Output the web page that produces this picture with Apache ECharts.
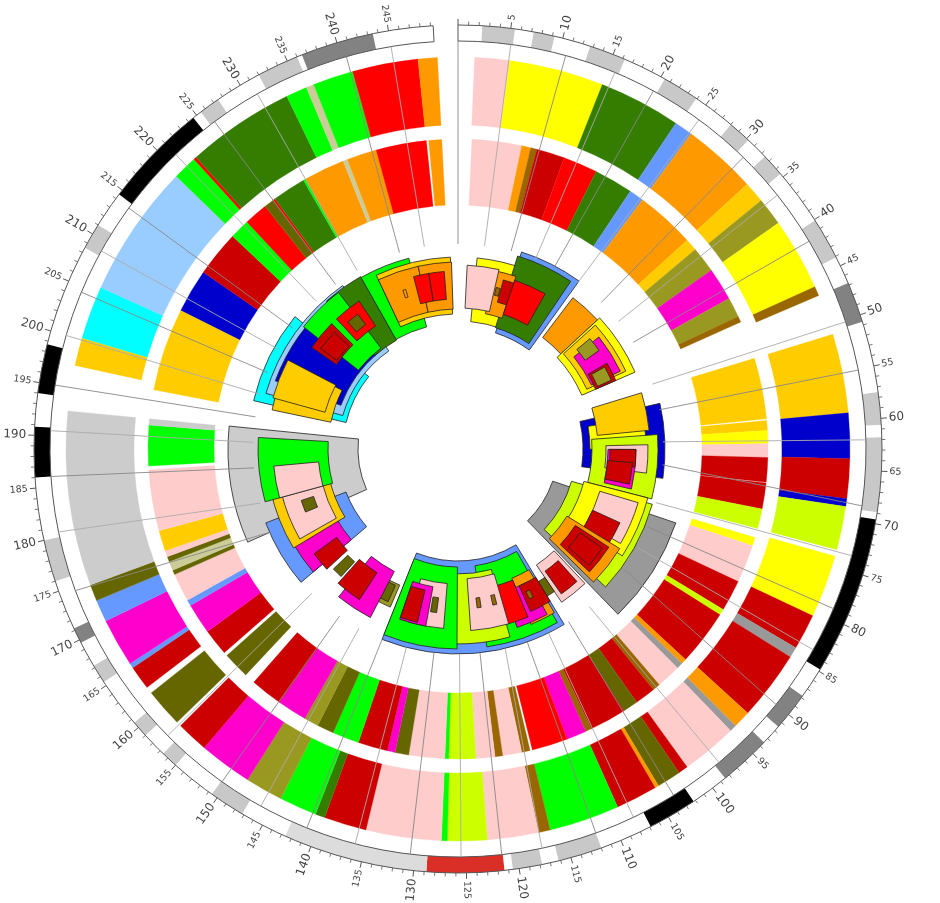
<!DOCTYPE html>
<html><head><meta charset="utf-8">
<script src="https://cdn.jsdelivr.net/npm/echarts@6/dist/echarts.min.js"></script>
<style>html,body{margin:0;background:#fff}#c{width:940px;height:903px}</style>
</head><body><div id="c"></div>
<script>
const PAL = {pink:'#ffcccc',yellow:'#ffff00',dgreen:'#357d00',blue:'#6699ff',orange:'#ff9900',gold:'#ffcc00',
 olive:'#999922',brown:'#996600',navy:'#0000cc',red:'#cc0000',lime:'#ccff00',gray:'#999999',bred:'#ff0000',
 dolive:'#666600',green:'#00ff00',magenta:'#ff00cc',lgray:'#cccccc',cyan:'#00ffff',lblue:'#99ccff',tan:'#cccc99',
 g25:'#c8c8c8',g75:'#828282',g100:'#000000',acen:'#d92f27',gvar:'#dcdcdc'};

const chromLength = 249.25;
const ideoBands = [[2.3,5.4,'g25'],[7.2,9.2,'g25'],[12.7,16.2,'g25'],[20.4,23.9,'g25'],[28,30.2,'g25'],[32.4,34.6,'g25'],
 [40.1,44.1,'g25'],[46.8,50.7,'g75'],[57.5,60.6,'g25'],[61.8,68.9,'g25'],[69.6,84.8,'g100'],[87.8,91.5,'g75'],[93.5,98.5,'g75'],
 [102.2,106.9,'g100'],[112,116.2,'g25'],[117.8,120.6,'g25'],[121.4,128.8,'acen'],[128.8,142.6,'gvar'],[147.2,150.6,'g25'],
 [155,156.6,'g25'],[159,160.6,'g25'],[165.4,167.2,'g25'],[169.7,171.2,'g75'],[176,180,'g25'],[186,190.8,'g100'],
 [194,198.7,'g100'],[208.5,211,'g25'],[214.5,224.6,'g100'],[225.5,227.5,'g25'],[232,236,'g25'],[236.5,243.5,'g75']];

const outerTrack = [[1.7,5.3,'pink'],[5.3,15.1,'yellow'],[15.1,23.6,'dgreen'],[23.6,25.5,'blue'],[25.5,33.2,'orange'],
 [33.2,35.4,'gold'],[35.4,38.3,'olive'],[38.3,45.8,'yellow'],[45.8,46.8,'brown'],
 [51,59.2,'gold'],[59.2,63.9,'navy'],[63.9,68,'red'],[68,68.8,'navy'],[68.8,73.3,'lime'],
 [74,80.5,'yellow'],[80.5,84.2,'red'],[84.2,85.3,'gray'],[85.3,92.5,'red'],[92.5,94.3,'orange'],[94.3,95,'gray'],
 [95,100.8,'pink'],[100.8,101.8,'red'],[101.8,104.3,'dolive'],[104.3,104.7,'orange'],[104.7,109,'red'],[109,116.3,'green'],
 [116.3,117.5,'brown'],[117.5,122.8,'pink'],[122.8,126.9,'lime'],[126.9,127.5,'green'],[127.5,135.3,'pink'],
 [135.3,139.7,'red'],[139.7,140.7,'dgreen'],[140.7,144.6,'green'],[144.6,148.5,'olive'],[148.5,154,'magenta'],
 [154,157.3,'red'],[157.8,161.8,'dolive'],[162.5,165,'red'],[165,165.5,'blue'],[165.5,170.5,'magenta'],
 [170.5,172.8,'blue'],[172.8,174.5,'dolive'],[174.5,192.6,'lgray'],
 [197.3,200.2,'gold'],[200.2,205.7,'cyan'],[205.7,219.5,'lblue'],[219.5,222,'green'],[222,222.3,'bred'],
 [222.3,233.5,'dgreen'],[233.5,235.7,'green'],[235.7,236.5,'tan'],[236.5,240.7,'green'],[240.7,247.5,'bred'],[247.5,249.5,'orange']];

const innerTrack = [[1.8,8.3,'pink'],[8.3,9.5,'orange'],[9.5,10.3,'brown'],[10.3,14,'red'],[14,18.5,'bred'],
 [18.5,23.6,'dgreen'],[23.6,25.5,'blue'],[25.5,33.3,'orange'],[33.3,34.9,'gold'],[34.9,38.3,'olive'],[38.3,42.6,'magenta'],
 [42.6,45.2,'olive'],[45.2,46,'brown'],
 [51,59,'gold'],[59.2,60.5,'gold'],[60.5,62.2,'yellow'],[62.2,64,'pink'],[64,67.2,'red'],[67.3,70.7,'red'],[70.7,73.3,'lime'],
 [74.5,75.6,'yellow'],[75.6,80.6,'pink'],[80.6,84.7,'red'],[84.7,85.5,'lime'],[85.5,92.8,'red'],[92.8,93.5,'orange'],
 [93.5,94.3,'gray'],[94.3,97.5,'pink'],[97.5,98.5,'brown'],[98.5,101.2,'red'],[101.2,103.2,'dolive'],[103.2,108,'red'],
 [108,108.8,'brown'],[108.8,111.4,'magenta'],[111.4,116.1,'bred'],[116.4,117.5,'brown'],[117.5,120,'pink'],[120,121,'brown'],
 [121,123.5,'pink'],[123.5,127,'lime'],[127,127.5,'green'],[127.5,132.2,'pink'],[132.2,134,'dolive'],[134,135,'magenta'],
 [135,138.9,'red'],[138.9,142.4,'green'],[142.4,144.6,'dolive'],[144.6,146.5,'olive'],[146.5,150.4,'magenta'],[150.4,154.6,'red'],
 [156,159.5,'dolive'],[160,163.5,'red'],[163.5,167.5,'magenta'],[167.5,168.3,'blue'],[168.3,172,'pink'],[172,172.6,'dolive'],
 [172.6,173.8,'tan'],[173.8,174.5,'dolive'],[174.5,175.3,'pink'],[175.3,178,'gold'],[178,186,'pink'],[186.5,191.8,'green'],
 [191.8,192.6,'lgray'],
 [196.4,207.3,'gold'],[207.3,213,'navy'],[213,219,'red'],[219,221.6,'green'],[221.6,224.7,'bred'],[224.7,226,'dolive'],
 [226,226.3,'bred'],[226.3,230.7,'dgreen'],[230.7,231,'green'],[231,236.4,'orange'],[236.4,237,'tan'],[237,240.9,'orange'],
 [240.9,247.5,'bred'],[247.8,249.5,'orange']];

const tiles = [
 [4,14.5,128,192,'yellow'],[12.5,25,122,207,'blue'],[12,23.7,127,202,'dgreen'],[8,13,138,182,'orange'],[2,9,141,184,'pink'],
 [10.5,15,152,175,'red'],[9.3,10.3,158,166,'brown'],[13,20.5,142,178,'bred'],
 [26,33,140,190,'orange'],[33,46.5,135,193,'yellow'],[33.5,45.5,142,185,'gold'],[36,45,148,180,'magenta'],
 [35,38.5,155,172,'olive'],[42,46.5,150,172,'red'],[42.5,46,153,168,'olive'],
 [54,68.6,125,207,'navy'],[56,63,132,188,'yellow'],[51,59,140,192,'gold'],[60,73,134,200,'lime'],[62,68,148,190,'pink'],
 [63,72,150,178,'magenta'],[63,67,152,178,'red'],[66,71,150,175,'red'],
 [76,95,100,230,'gray'],[74,93,118,202,'lime'],[73,86,130,196,'yellow'],[74.5,84,148,188,'pink'],[80,86,148,178,'red'],
 [85,94,128,190,'orange'],[86,93,140,180,'red'],[87,92,148,175,'red'],
 [95.5,102,140,185,'pink'],[96.5,101,150,178,'red'],[102,105,155,172,'dolive'],
 [104,141,112,205,'blue'],[105,120,118,200,'green'],[104.5,110,140,190,'orange'],[106,113,150,188,'magenta'],
 [104,109,150,178,'red'],[107,108,158,166,'brown'],[110,116.5,142,182,'bred'],
 [115,127,125,195,'lime'],[114.5,123,130,182,'pink'],[116,117,150,160,'brown'],[120,121,150,160,'brown'],
 [126,141,118,200,'green'],[129,137,135,180,'pink'],[133,139,140,180,'magenta'],[135,139,145,178,'red'],
 [131,132.5,150,165,'dolive'],[142,146,148,172,'olive'],[143,145.5,150,168,'dolive'],
 [145,153,138,190,'magenta'],[149,155,148,180,'red'],[155.5,158,153,173,'dolive'],
 [172,192.7,100,230,'lgray'],[160.5,174,120,206,'blue'],[160.5,168,140,190,'magenta'],[159,163.5,150,178,'red'],
 [167,180,132,192,'gold'],[168,179,140,182,'pink'],[173,176,152,165,'dolive'],
 [178,191,130,200,'green'],[178,185,140,185,'pink'],
 [198,216,115,210,'cyan'],[200,227,120,200,'lblue'],[203,224,125,195,'navy'],[197,207.5,130,190,'gold'],
 [199.5,208,138,192,'gold'],[222.5,231,125,198,'dgreen'],[231,241.5,126,197,'green'],[215.5,225.5,127,197,'green'],
 [213,220,148,178,'red'],[214,219,150,170,'red'],[221.5,228,148,178,'bred'],[223,226,155,168,'dolive'],
 [234,250,135,192,'gold'],[234,243,140,187,'orange'],[243,250.2,140,187,'orange'],[238.2,238.9,160,168,'orange'],
 [241.5,245,150,178,'bred'],[245,248.5,150,178,'bred']];

const links = [[0,0],[5.2,5.2],[10.5,10.7],[15.5,15.8],[19.5,20],[25,25.3],[31,31],[36,36],[41,41.5],[50,50.2],
 [55.2,55.1],[61.5,62],[66,68.5],[73.5,73.5],[78.5,79],[83,83.5],[88,90],[98,98],[103,103.5],[107.5,108],[112,112],
 [116.5,117.5],[121.5,121.5],[125.5,125.5],[130.5,130.5],[136,136],[141,141],[146,146],[150.5,150.5],[157.5,157.5],
 [172,174.5],[178,180.5],[185,186],[190,190.5],[195,195],[199.5,200],[204,204.5],[209,209],[214,214],[221,221],
 [226,226],[231,231],[240,240.5],[245,245]];

const tickLabels = [5,10,15,20,25,30,35,40,45,50,55,60,65,70,75,80,85,90,95,100,105,110,115,120,125,130,135,140,145,
 150,155,160,165,170,175,180,185,190,195,200,205,210,215,220,225,230,235,240,245];

const R = {ideo:[408,424], outer:[324,392], inner:[244,310], linkIn:205, linkOut:408, label:432};

function sector(api,a0,a1,r0,r1,style){
  const c = api.coord([0,a0]);
  const p0 = api.coord([r1,a0]), p1 = api.coord([r1,a1]), q0 = api.coord([r0,a0]);
  const rr1 = Math.hypot(p0[0]-c[0],p0[1]-c[1]), rr0 = Math.hypot(q0[0]-c[0],q0[1]-c[1]);
  let sa = Math.atan2(p0[1]-c[1],p0[0]-c[0]), ea = Math.atan2(p1[1]-c[1],p1[0]-c[0]);
  if (ea < sa) ea += Math.PI*2;
  return {type:'sector',shape:{cx:c[0],cy:c[1],r0:rr0,r:rr1,startAngle:sa,endAngle:ea,clockwise:true},style};
}
function mid(arr){ return arr.map(d=>[0,(d[0]+d[1])/2]); }

const ticks = []; for (let i=0;i<=249;i++) ticks.push(i);

const series = [];
function layer(data, fn){
  series.push({type:'custom',coordinateSystem:'polar',data:data.map(()=>[0,0]),silent:true,animation:false,
    encode:{radius:0,angle:1},clip:false,renderItem:(p,api)=>fn(p.dataIndex,api)});
}
layer(tiles,(i,api)=>{const t=tiles[i];return sector(api,t[0],t[1],t[2],t[3],{fill:PAL[t[4]],stroke:'#222',lineWidth:0.8});});
layer(innerTrack,(i,api)=>{const t=innerTrack[i];return sector(api,t[0],t[1],R.inner[0],R.inner[1],{fill:PAL[t[2]],stroke:PAL[t[2]],lineWidth:0.3});});
layer(outerTrack,(i,api)=>{const t=outerTrack[i];return sector(api,t[0],t[1],R.outer[0],R.outer[1],{fill:PAL[t[2]],stroke:PAL[t[2]],lineWidth:0.3});});
layer([0],(i,api)=>sector(api,0,chromLength,R.ideo[0],R.ideo[1],{fill:'#fff'}));
layer(ideoBands,(i,api)=>{const t=ideoBands[i];return sector(api,t[0],t[1],R.ideo[0],R.ideo[1],{fill:PAL[t[2]]});});
layer([0],(i,api)=>sector(api,0,chromLength,R.ideo[0],R.ideo[1],{fill:'none',stroke:'#555',lineWidth:1}));
layer(ticks,(i,api)=>{const m=ticks[i];const maj=m%5===0;const a=api.coord([R.ideo[1],m]),b=api.coord([R.ideo[1]+(maj?6:3.5),m]);
  return {type:'line',shape:{x1:a[0],y1:a[1],x2:b[0],y2:b[1]},style:{stroke:'#555',lineWidth:maj?1:0.8}};});
layer(tickLabels,(i,api)=>{const m=tickLabels[i];const p=api.coord([R.label,m]);const c=api.coord([0,m]);
  const th=Math.atan2(p[0]-c[0],-(p[1]-c[1]))*180/Math.PI; const deg=(th+360)%360;
  const right=deg<180; const rot=right?(90-deg):(270-deg);
  return {type:'text',x:p[0],y:p[1],rotation:rot*Math.PI/180,
    style:{text:String(m),fill:'#444',fontSize:m%10===0?12:9.5,fontFamily:'DejaVu Sans',align:right?'left':'right',verticalAlign:'middle'}};});
layer(links,(i,api)=>{const l=links[i];const a=api.coord([R.linkIn,l[0]]),b=api.coord([R.linkOut,l[1]]);
  return {type:'line',shape:{x1:a[0],y1:a[1],x2:b[0],y2:b[1]},style:{stroke:i%2?'#aaa':'#888',lineWidth:0.9}};});

const chart = echarts.init(document.getElementById('c'));
chart.setOption({animation:false,
  polar:{center:[458,449],radius:[0,460]},
  radiusAxis:{type:'value',min:0,max:460,show:false},
  angleAxis:{type:'value',min:0,max:251.6,startAngle:90,clockwise:true,show:false},
  series});
</script></body></html>
